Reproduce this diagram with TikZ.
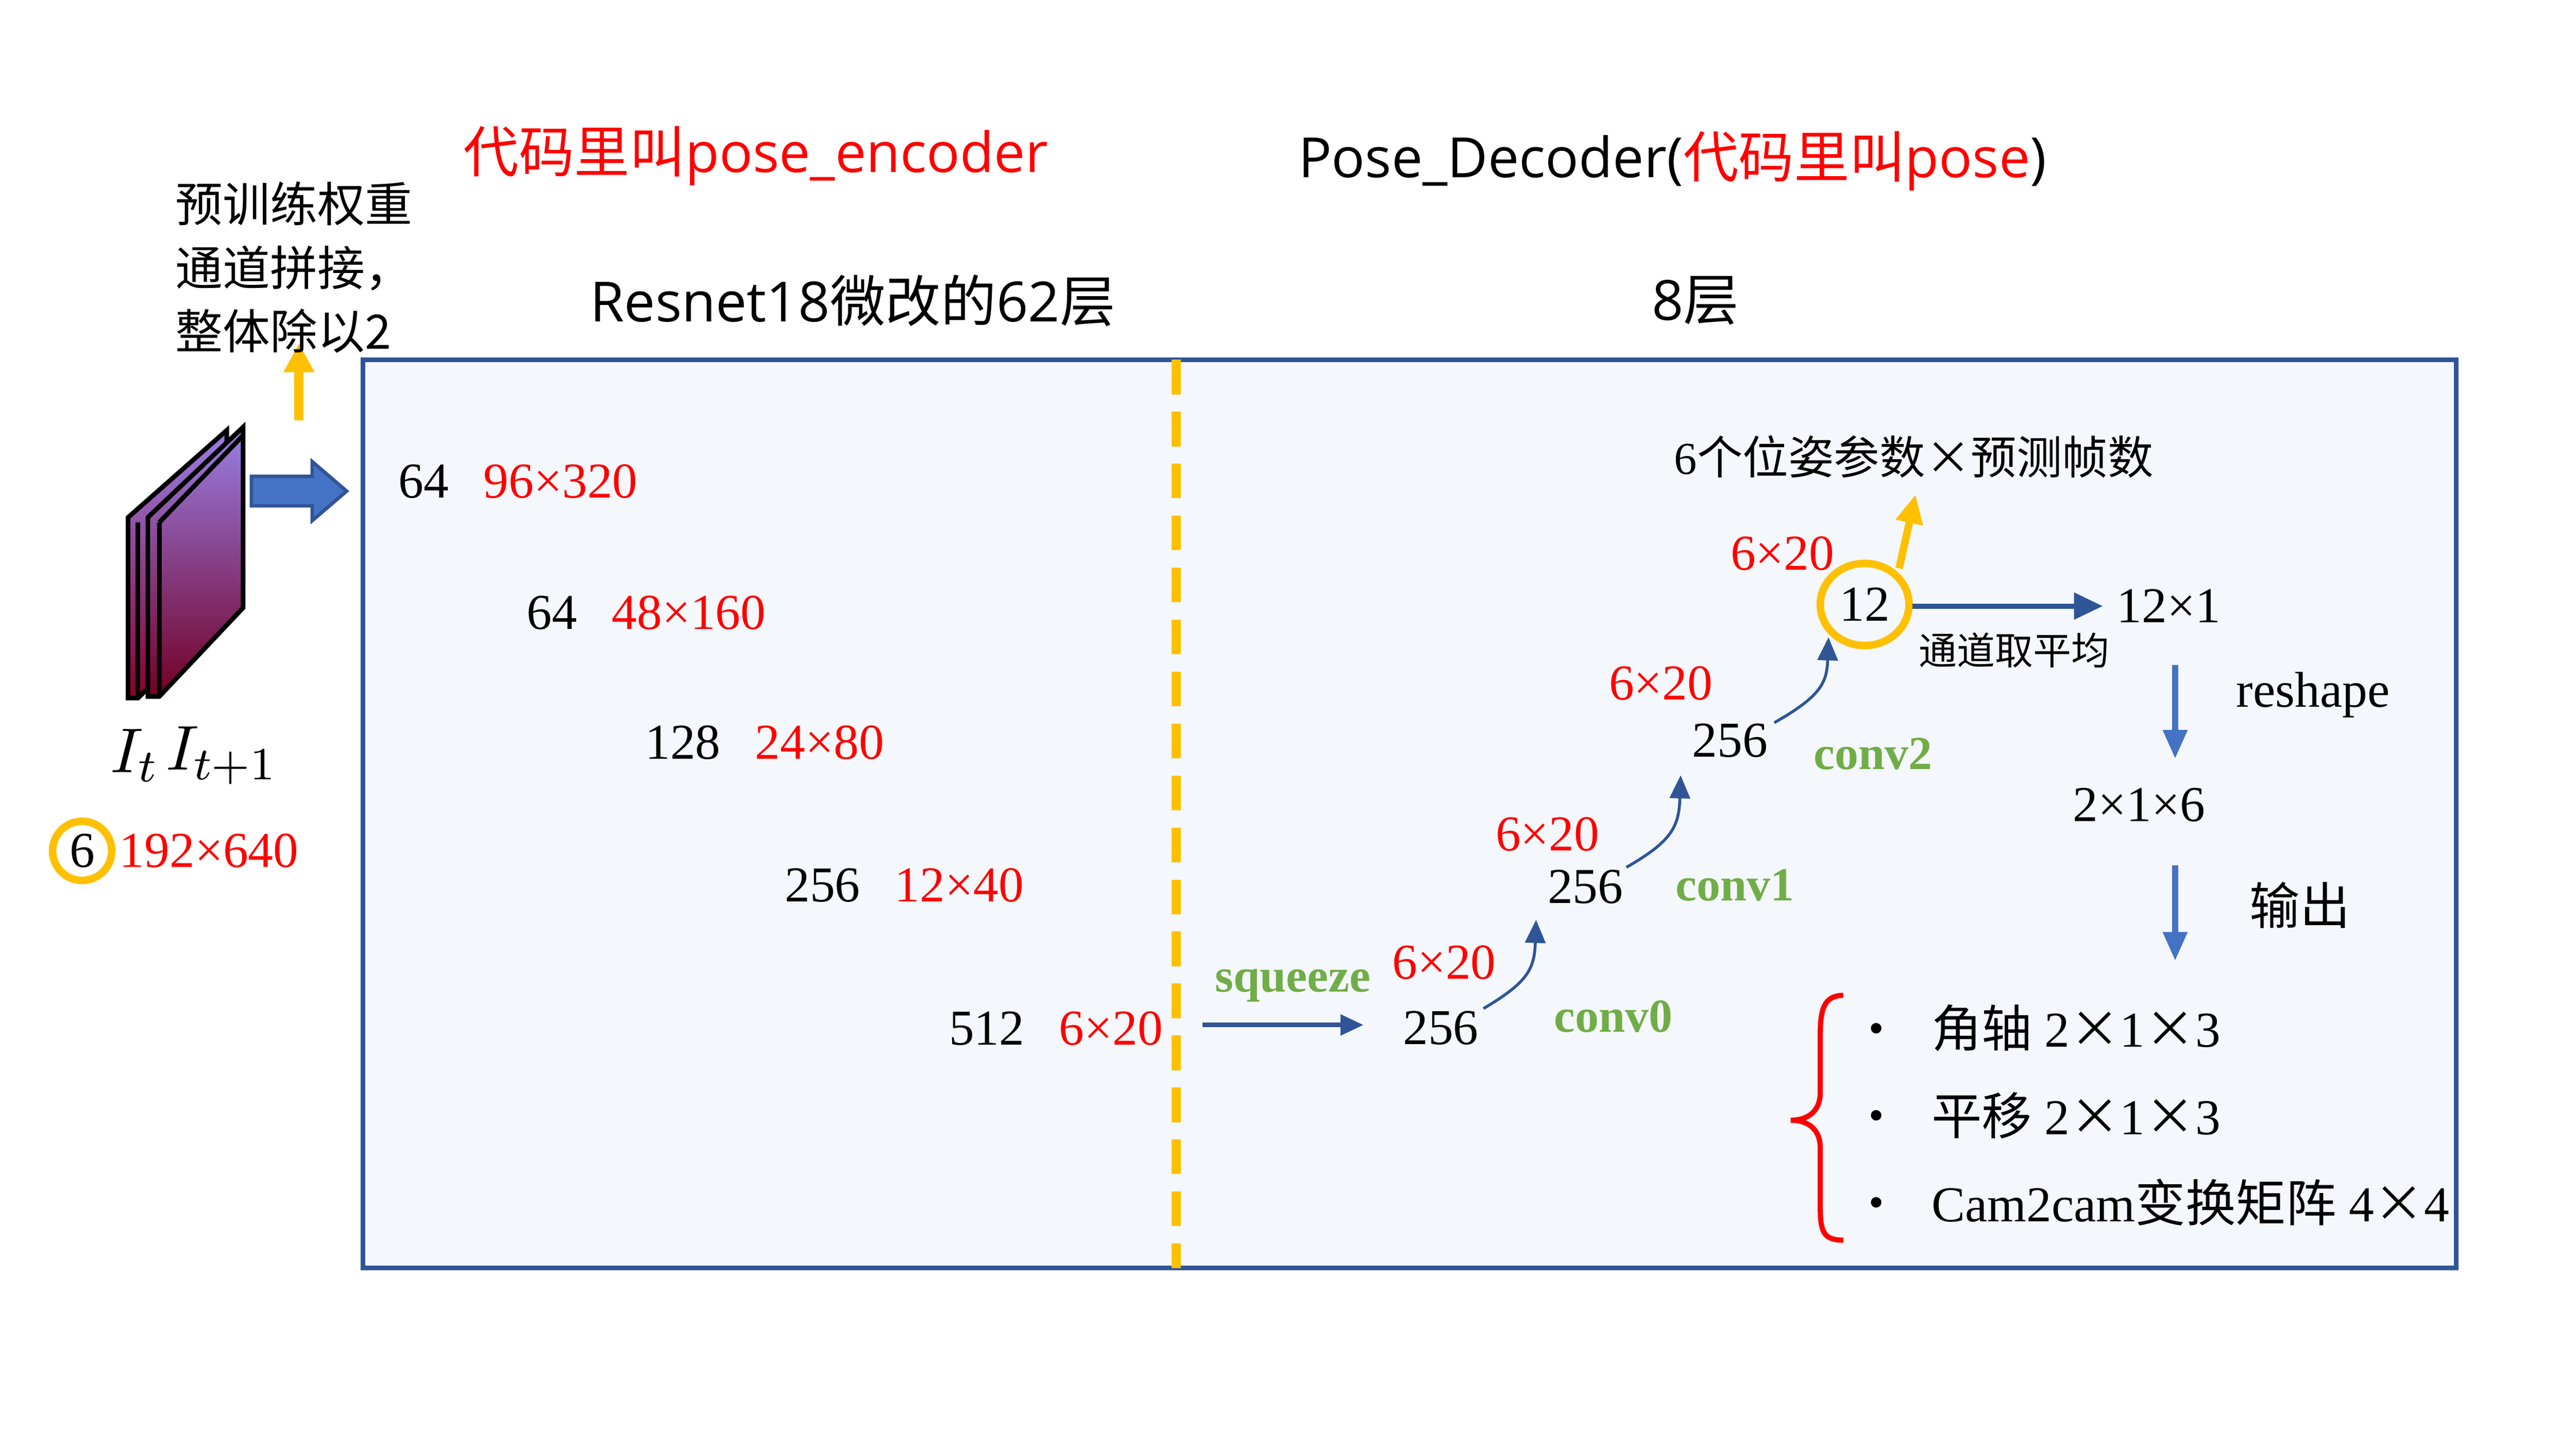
\documentclass[tikz,border=0pt]{standalone}
\usepackage{fontspec}
\setmainfont{Liberation Serif}
\newfontfamily\cjk{Noto Sans CJK SC}
\newfontfamily\osans{Open Sans}
\usetikzlibrary{arrows.meta,decorations.pathreplacing,calc}
\definecolor{myred}{HTML}{FF0000}
\definecolor{mygreen}{HTML}{70AD47}
\definecolor{myblue}{HTML}{4472C4}
\definecolor{dblue}{HTML}{2F5597}
\definecolor{myyel}{HTML}{FFC000}
\definecolor{boxbg}{HTML}{F4F7FB}
\begin{document}
\begin{tikzpicture}[x=0.01cm,y=-0.01cm,
  num/.style={font=\fontsize{8.7}{10}\selectfont,inner sep=0pt},
  dim/.style={font=\fontsize{8.7}{10}\selectfont,text=myred,inner sep=0pt},
  cv/.style={font=\fontsize{8.2}{10}\selectfont\bfseries,text=mygreen,inner sep=0pt},
  small/.style={font=\fontsize{6.6}{8}\selectfont\cjk,inner sep=0pt},
  curv/.style={dblue,line width=0.5pt,-{Triangle[length=4pt,width=3.5pt]}},
  title/.style={font=\fontsize{9.6}{11}\selectfont\osans,inner sep=0pt}]
\useasboundingbox (0,0) rectangle (1568,882);
% main box
\draw[dblue,fill=boxbg,line width=0.8pt] (221,219) rectangle (1495,772);
\draw[myyel,line width=1.6pt,dash pattern=on 6pt off 3pt] (716,219) -- (716,772);
% titles
\node[title,text=myred] (t1) at (460,95) {{\cjk 代码里叫}pose\_encoder};
\node[title] (t2) at (1018,98) {Pose\_Decoder({\color{myred}{\cjk 代码里叫}pose})};
\node[title] (t3) at (519,183) {Resnet18{\cjk 微改的}62{\cjk 层}};
\node[title] (t4) at (1032,183) {8{\cjk 层}};
% image stack
\shade[top color=violet!40!blue!50!white,bottom color=purple!70!black,draw=black,line width=0.8pt]
 (78,315) -- (138,262) -- (138,372) -- (84,425) -- (78,425) -- cycle;
\draw[black,line width=0.8pt] (84,318) -- (84,425);
\shade[top color=violet!40!blue!50!white,bottom color=purple!60!black,draw=black,line width=0.8pt]
 (90,315) -- (148,260) -- (148,370) -- (97,424) -- (90,424) -- cycle;
\draw[black,line width=0.8pt] (97,318) -- (97,424) (97,318) -- (148,265);
% blue block arrow
\draw[dblue,fill=myblue,line width=0.6pt] (153,290) -- (190,290) -- (190,281) -- (211,299) -- (190,317) -- (190,308) -- (153,308) -- cycle;
% yellow arrow and text
\coordinate (ya) at (182,256);
\coordinate (yb) at (182,209);
\draw[myyel,line width=1.6pt,-{Triangle[length=5pt,width=5pt]}] (ya) -- (yb);
\node[font=\fontsize{8.2}{11}\selectfont\cjk,align=left,anchor=north west,inner sep=0pt] (pre) at (106,110) {预训练权重\\通道拼接，\\整体除以2};
% left labels
\node[font=\fontsize{11}{12}\selectfont,inner sep=0pt] (it) at (82,460) {$I_t$};
\node[font=\fontsize{11}{12}\selectfont,inner sep=0pt] (it1) at (135,460) {$I_{t+1}$};
\node[num] (six) at (50,518) {6};
\draw[myyel,line width=1.3pt] (50,518) circle (18);
\node[dim,anchor=west] (d0) at (72,518) {192×640};
% encoder rows
\node[num,anchor=west] (e1) at (242,293) {64\hspace{6pt}\textcolor{myred}{96×320}};
\node[num,anchor=west] (e2) at (320,373) {64\hspace{6pt}\textcolor{myred}{48×160}};
\node[num,anchor=west] (e3) at (392,452) {128\hspace{6pt}\textcolor{myred}{24×80}};
\node[num,anchor=west] (e4) at (477,539) {256\hspace{6pt}\textcolor{myred}{12×40}};
\node[num,anchor=west] (e5) at (577,626) {512\hspace{6pt}\textcolor{myred}{6×20}};
% decoder
\coordinate (sq1) at (732,624);
\coordinate (sq2) at (830,624);
\draw[dblue,line width=0.8pt,-{Triangle[length=4pt,width=3.5pt]}] (sq1) -- (sq2);
\node[cv] (sql) at (787,600) {squeeze};
\node[num] (n0) at (877,626) {256};
\node[dim] (s0) at (879,586) {6×20};
\node[cv] (c0) at (982,619) {conv0};
\node[num] (n1) at (965,540) {256};
\node[dim] (s1) at (942,508) {6×20};
\node[cv] (c1) at (1056,539) {conv1};
\node[num] (n2) at (1053,451) {256};
\node[dim] (s2) at (1011,416) {6×20};
\node[cv] (c2) at (1140,459) {conv2};
\node[num] (n3) at (1135,368) {12};
\draw[myyel,line width=1.3pt] (1135,368) ellipse (27 and 25);
\node[dim] (s3) at (1085,337) {6×20};
\draw[curv] (903,614) .. controls (930,598) and (934,590) .. (935,560);
\draw[curv] (990,528) .. controls (1018,512) and (1022,503) .. (1023,472);
\draw[curv] (1080,440) .. controls (1108,424) and (1112,416) .. (1113,388);
\coordinate (yl1) at (1156,346);
\coordinate (yl2) at (1166,301);
\draw[myyel,line width=1.3pt,-{Triangle[length=5pt,width=4.5pt]}] (yl1) -- (yl2);
\node[font=\fontsize{7.9}{9}\selectfont,inner sep=0pt] (hd) at (1165,278) {6{\cjk 个位姿参数×预测帧数}};
\node[num] (n4) at (1320,369) {12×1};
\coordinate (a1) at (1164,369);
\coordinate (a2) at (1280,369);
\draw[dblue,line width=0.9pt,-{Triangle[length=5pt,width=4.5pt]}] (a1) -- (a2);
\node[small] (avg) at (1226,396) {通道取平均};
\coordinate (b1) at (1324,405);
\coordinate (b2) at (1324,462);
\draw[myblue,line width=1.1pt,-{Triangle[length=5pt,width=4pt]}] (b1) -- (b2);
\node[num] (rs) at (1408,423) {reshape};
\node[num] (n5) at (1302,490) {2×1×6};
\coordinate (c1a) at (1324,527);
\coordinate (c2a) at (1324,585);
\draw[myblue,line width=1.1pt,-{Triangle[length=5pt,width=4pt]}] (c1a) -- (c2a);
\node[font=\fontsize{8.7}{10}\selectfont\cjk,inner sep=0pt] (out) at (1400,551) {输出};
% brace
\draw[myred,line width=0.9pt] (1122,606) .. controls (1110,606) and (1108,615) .. (1108,630) -- (1108,665) .. controls (1108,677) and (1100,682) .. (1090,682) .. controls (1100,682) and (1108,687) .. (1108,699) -- (1108,735) .. controls (1108,750) and (1110,755) .. (1122,755);
\foreach \y/\t [count=\i] in {626/{{\cjk 角轴} 2{\cjk ×}1{\cjk ×}3},679/{{\cjk 平移} 2{\cjk ×}1{\cjk ×}3},732/{Cam2cam{\cjk 变换矩阵} 4{\cjk ×}4}}{
  \fill (1142,\y) circle (3.2);
  \node[num,anchor=west] (l\i) at (1175,\y) {\t};
}
\end{tikzpicture}
\end{document}
